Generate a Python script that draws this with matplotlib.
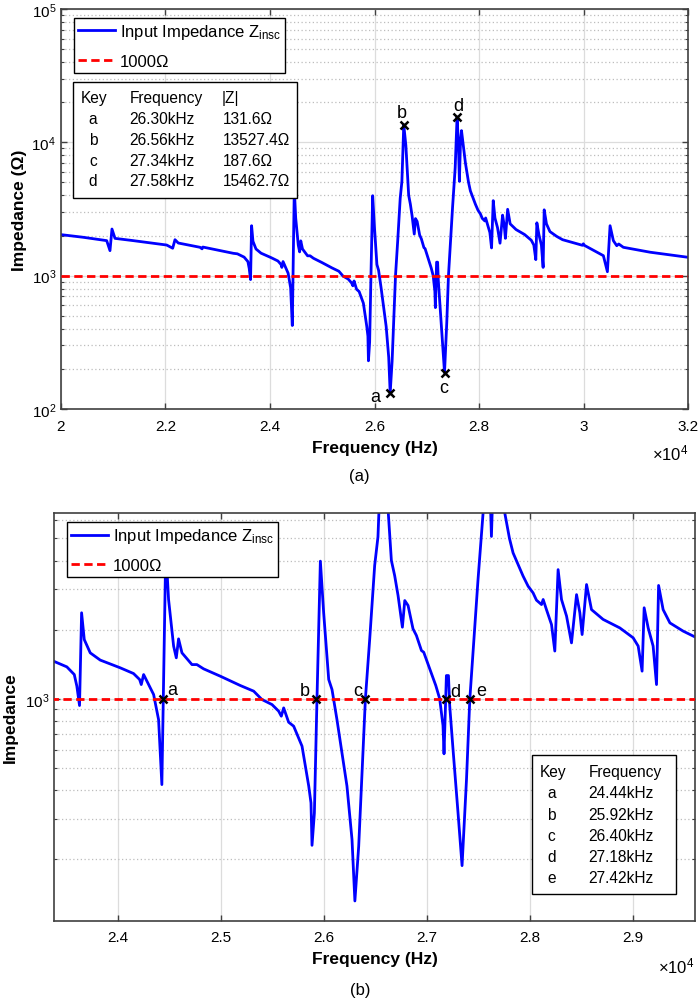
import matplotlib
matplotlib.use('Agg')
import matplotlib.pyplot as plt
from matplotlib.patches import Rectangle
from matplotlib.ticker import FuncFormatter, LogLocator, NullFormatter, MultipleLocator

plt.rcParams['font.family'] = ['Liberation Sans', 'DejaVu Sans']
plt.rcParams['mathtext.fontset'] = 'custom'
plt.rcParams['mathtext.rm'] = 'Liberation Sans'
plt.rcParams['mathtext.it'] = 'Liberation Sans:italic'
plt.rcParams['mathtext.bf'] = 'Liberation Sans:bold'

# Input impedance sweep (Hz, ohm)
freq = [20000, 20427, 20875, 20938, 20976, 21034, 21384, 22023, 22138, 22182,
        22245, 22661, 22700, 22715, 23106, 23298, 23376, 23505, 23577, 23602,
        23628, 23648, 23674, 23732, 23829, 24023, 24152, 24211, 24227, 24250,
        24298, 24347, 24395, 24427, 24441, 24465, 24492, 24541, 24567, 24589,
        24622, 24719, 24767, 24832, 24994, 25188, 25318, 25398, 25496, 25560,
        25586, 25609, 25657, 25706, 25787, 25852, 25874, 25884, 25907, 25932,
        25965, 25997, 26023, 26046, 26078, 26126, 26223, 26272, 26300, 26337,
        26402, 26444, 26492, 26524, 26560, 26600, 26625, 26654, 26686, 26719,
        26761, 26784, 26816, 26864, 26897, 26946, 26968, 27026, 27085, 27123,
        27155, 27165, 27188, 27208, 27220, 27252, 27301, 27340, 27383, 27415,
        27495, 27544, 27580, 27605, 27625, 27645, 27665, 27700, 27740, 27800,
        27835, 27932, 27981, 28029, 28062, 28111, 28127, 28159, 28208, 28240,
        28272, 28305, 28354, 28402, 28451, 28483, 28505, 28548, 28596, 28709,
        28871, 29000, 29049, 29087, 29107, 29146, 29194, 29227, 29247, 29291,
        29357, 29486, 29599, 29980, 29997, 30015, 30380, 30457, 30508, 30571,
        30636, 30674, 30762, 31274, 32000]
imp = [2032, 1941, 1832, 1541, 2239, 1905, 1832, 1698, 1607, 1862,
       1758, 1633, 1590, 1640, 1524, 1472, 1459, 1378, 1276, 1136,
       935, 2371, 1812, 1586, 1475, 1365, 1289, 1214, 1154, 1276,
       1154, 1044, 812, 423, 1000, 4500, 2710, 1697, 1509, 1825,
       1586, 1410, 1410, 1351, 1255, 1143, 1080, 993, 944, 884,
       840, 913, 791, 760, 622, 417, 352, 230, 318, 993,
       3980, 2371, 1667, 1214, 1098, 812, 417, 244, 131.6, 228,
       1000, 1825, 3811, 5081, 13527.4, 9500, 6400, 4010, 3444, 2818,
       2052, 2680, 2551, 2018, 1888, 1623, 1596, 1351, 1143, 1000,
       765, 576, 1263, 1263, 935, 605, 318, 187.6, 445, 993,
       3313, 6450, 15462.7, 10000, 5100, 10000, 12250, 9500, 7000, 5000,
       4325, 3428, 3096, 2896, 2691, 2575, 2709, 2448, 2107, 1615,
       3656, 2709, 2293, 1753, 2845, 2371, 1906, 3148, 2448, 2218,
       2037, 1845, 1698, 1320, 2493, 2037, 1698, 1154, 3119, 2448,
       2142, 1972, 1862, 1690, 1735, 1690, 1413, 1071, 2371, 1832,
       1679, 1729, 1633, 1500, 1374]

threshold = 1000

# (a) key: resonance points
key_a = ['a', 'b', 'c', 'd']
key_a_khz = [26.30, 26.56, 27.34, 27.58]
key_a_ohm = [131.6, 13527.4, 187.6, 15462.7]

# (b) key: crossings of the 1000 ohm line
key_b = ['a', 'b', 'c', 'd', 'e']
key_b_khz = [24.44, 25.92, 26.40, 27.18, 27.42]

# label offsets (points) for the markers
offs_a = [(-10.5, -5.5), (-1.4, 5.5), (-0.2, -13.9), (0.7, 4.8)]
offs_b = [(6.5, 3.6), (-7.6, 3.1), (-5.3, 2.9), (6.7, 1.9), (8.2, 2.4)]

spine_col = '#404040'
tab_fs = 11.2


def style_axes(ax, step):
    ax.set_yscale('log')
    ax.xaxis.set_major_locator(MultipleLocator(step))
    ax.xaxis.set_major_formatter(FuncFormatter(lambda v, p: '%g' % (v / 1e4)))
    ax.yaxis.set_major_locator(LogLocator(base=10))
    ax.yaxis.set_minor_locator(LogLocator(base=10, subs=range(2, 10)))
    ax.yaxis.set_minor_formatter(NullFormatter())
    ax.grid(True, which='major', color='#dcdcdc', lw=0.9, ls='-')
    ax.grid(True, which='minor', axis='y', color='#bdbdbd', lw=0.9, ls=(0, (1, 2)))
    ax.set_axisbelow(True)
    ax.tick_params(which='both', direction='in', top=True, right=True,
                   colors=spine_col, labelcolor='black', labelsize=11)
    ax.tick_params(which='major', length=4, width=1)
    ax.tick_params(which='minor', length=2.5, width=0.8)
    ax.tick_params(axis='x', pad=7)
    for s in ax.spines.values():
        s.set_color(spine_col)
        s.set_linewidth(1.2)
    ax.set_xlabel('Frequency (Hz)', fontsize=12.5, fontweight='bold', labelpad=5)


def draw_curves(ax):
    l1, = ax.plot(freq, imp, color='#0000ff', lw=2, zorder=2)
    l2, = ax.plot([freq[0], freq[-1]], [threshold, threshold], color='#ff0000',
                  lw=2, dashes=(3, 1.6), zorder=3)
    leg = ax.legend([l1, l2], ['Input Impedance Z$_{\\mathrm{insc}}$', '1000\u03a9'],
                    loc='upper left', bbox_to_anchor=(0.0207, 0.9775), borderaxespad=0,
                    fancybox=False, edgecolor='black', framealpha=1, fontsize=12,
                    handlelength=2.2, handletextpad=0.3, labelspacing=0.75,
                    borderpad=0.25)
    leg.get_frame().set_linewidth(1.0)
    leg.set_zorder(6)


fig = plt.figure(figsize=(7, 10.03), dpi=100)

# ---------- (a) full sweep ----------
ax1 = fig.add_axes([0.0871, 0.5912, 0.8958, 0.3988])
draw_curves(ax1)
style_axes(ax1, 2000)
ax1.set_xlim(20000, 32000)
ax1.set_ylim(1e2, 1e5)
ax1.set_ylabel('Impedance (\u03a9)', fontsize=12.5, fontweight='bold', labelpad=3)

for k, f, z, o in zip(key_a, key_a_khz, key_a_ohm, offs_a):
    ax1.plot(f * 1000, z, 'x', color='black', ms=5.5, mew=1.8, zorder=4)
    ax1.annotate(k, (f * 1000, z), xytext=o, textcoords='offset points',
                 ha='center', va='baseline', fontsize=13, zorder=4)

# key table
ax1.add_patch(Rectangle((0.0196, 0.5275), 0.3563, 0.2908, transform=ax1.transAxes,
                        fc='white', ec='black', lw=1.0, zorder=6))
rows_y = [0.779, 0.7275, 0.675, 0.621, 0.571]
ax1.text(0.0319, rows_y[0], 'Key', transform=ax1.transAxes, va='center', fontsize=tab_fs, zorder=7)
ax1.text(0.1093, rows_y[0], 'Frequency', transform=ax1.transAxes, va='center', fontsize=tab_fs, zorder=7)
ax1.text(0.2563, rows_y[0], '|Z|', transform=ax1.transAxes, va='center', fontsize=tab_fs, zorder=7)
for i, (k, f, z) in enumerate(zip(key_a, key_a_khz, key_a_ohm)):
    y = rows_y[i + 1]
    ax1.text(0.051, y, k, transform=ax1.transAxes, ha='center', va='center', fontsize=tab_fs, zorder=7)
    ax1.text(0.1093, y, '%.2fkHz' % f, transform=ax1.transAxes, va='center', fontsize=tab_fs, zorder=7)
    ax1.text(0.2584, y, '%.1f\u03a9' % z, transform=ax1.transAxes, va='center', fontsize=tab_fs, zorder=7)

ax1.text(1.0, -0.1075, '\u00d710$^{4}$', transform=ax1.transAxes, ha='right',
         va='center', fontsize=12)

# ---------- (b) zoom on the 1000 ohm crossings ----------
ax2 = fig.add_axes([0.0771, 0.0811, 0.9157, 0.4064])
draw_curves(ax2)
style_axes(ax2, 1000)
ax2.set_xlim(23380, 29600)
ax2.set_ylim(108, 6450)
ax2.set_ylabel('Impedance', fontsize=12.5, fontweight='bold', labelpad=5)

for k, f, o in zip(key_b, key_b_khz, offs_b):
    ax2.plot(f * 1000, threshold, 'x', color='black', ms=5.5, mew=1.8, zorder=4)
    ax2.annotate(k, (f * 1000, threshold), xytext=o, textcoords='offset points',
                 ha='center', va='baseline', fontsize=13, zorder=4)

ax2.add_patch(Rectangle((0.7462, 0.0662), 0.2237, 0.3395, transform=ax2.transAxes,
                        fc='white', ec='black', lw=1.0, zorder=6))
rows_y = [0.3664, 0.3132, 0.2599, 0.2094, 0.1579, 0.1047]
ax2.text(0.7571, rows_y[0], 'Key', transform=ax2.transAxes, va='center', fontsize=tab_fs, zorder=7)
ax2.text(0.8346, rows_y[0], 'Frequency', transform=ax2.transAxes, va='center', fontsize=tab_fs, zorder=7)
for i, (k, f) in enumerate(zip(key_b, key_b_khz)):
    y = rows_y[i + 1]
    ax2.text(0.7765, y, k, transform=ax2.transAxes, ha='center', va='center', fontsize=tab_fs, zorder=7)
    ax2.text(0.8336, y, '%.2fkHz' % f, transform=ax2.transAxes, va='center', fontsize=tab_fs, zorder=7)

ax2.text(1.0, -0.11, '\u00d710$^{4}$', transform=ax2.transAxes, ha='right',
         va='center', fontsize=12)

fig.text(0.514, 1 - 476 / 1003, '(a)', ha='center', va='center', fontsize=12)
fig.text(0.514, 1 - 991 / 1003, '(b)', ha='center', va='center', fontsize=12)

fig.savefig('out.png', dpi=100)
